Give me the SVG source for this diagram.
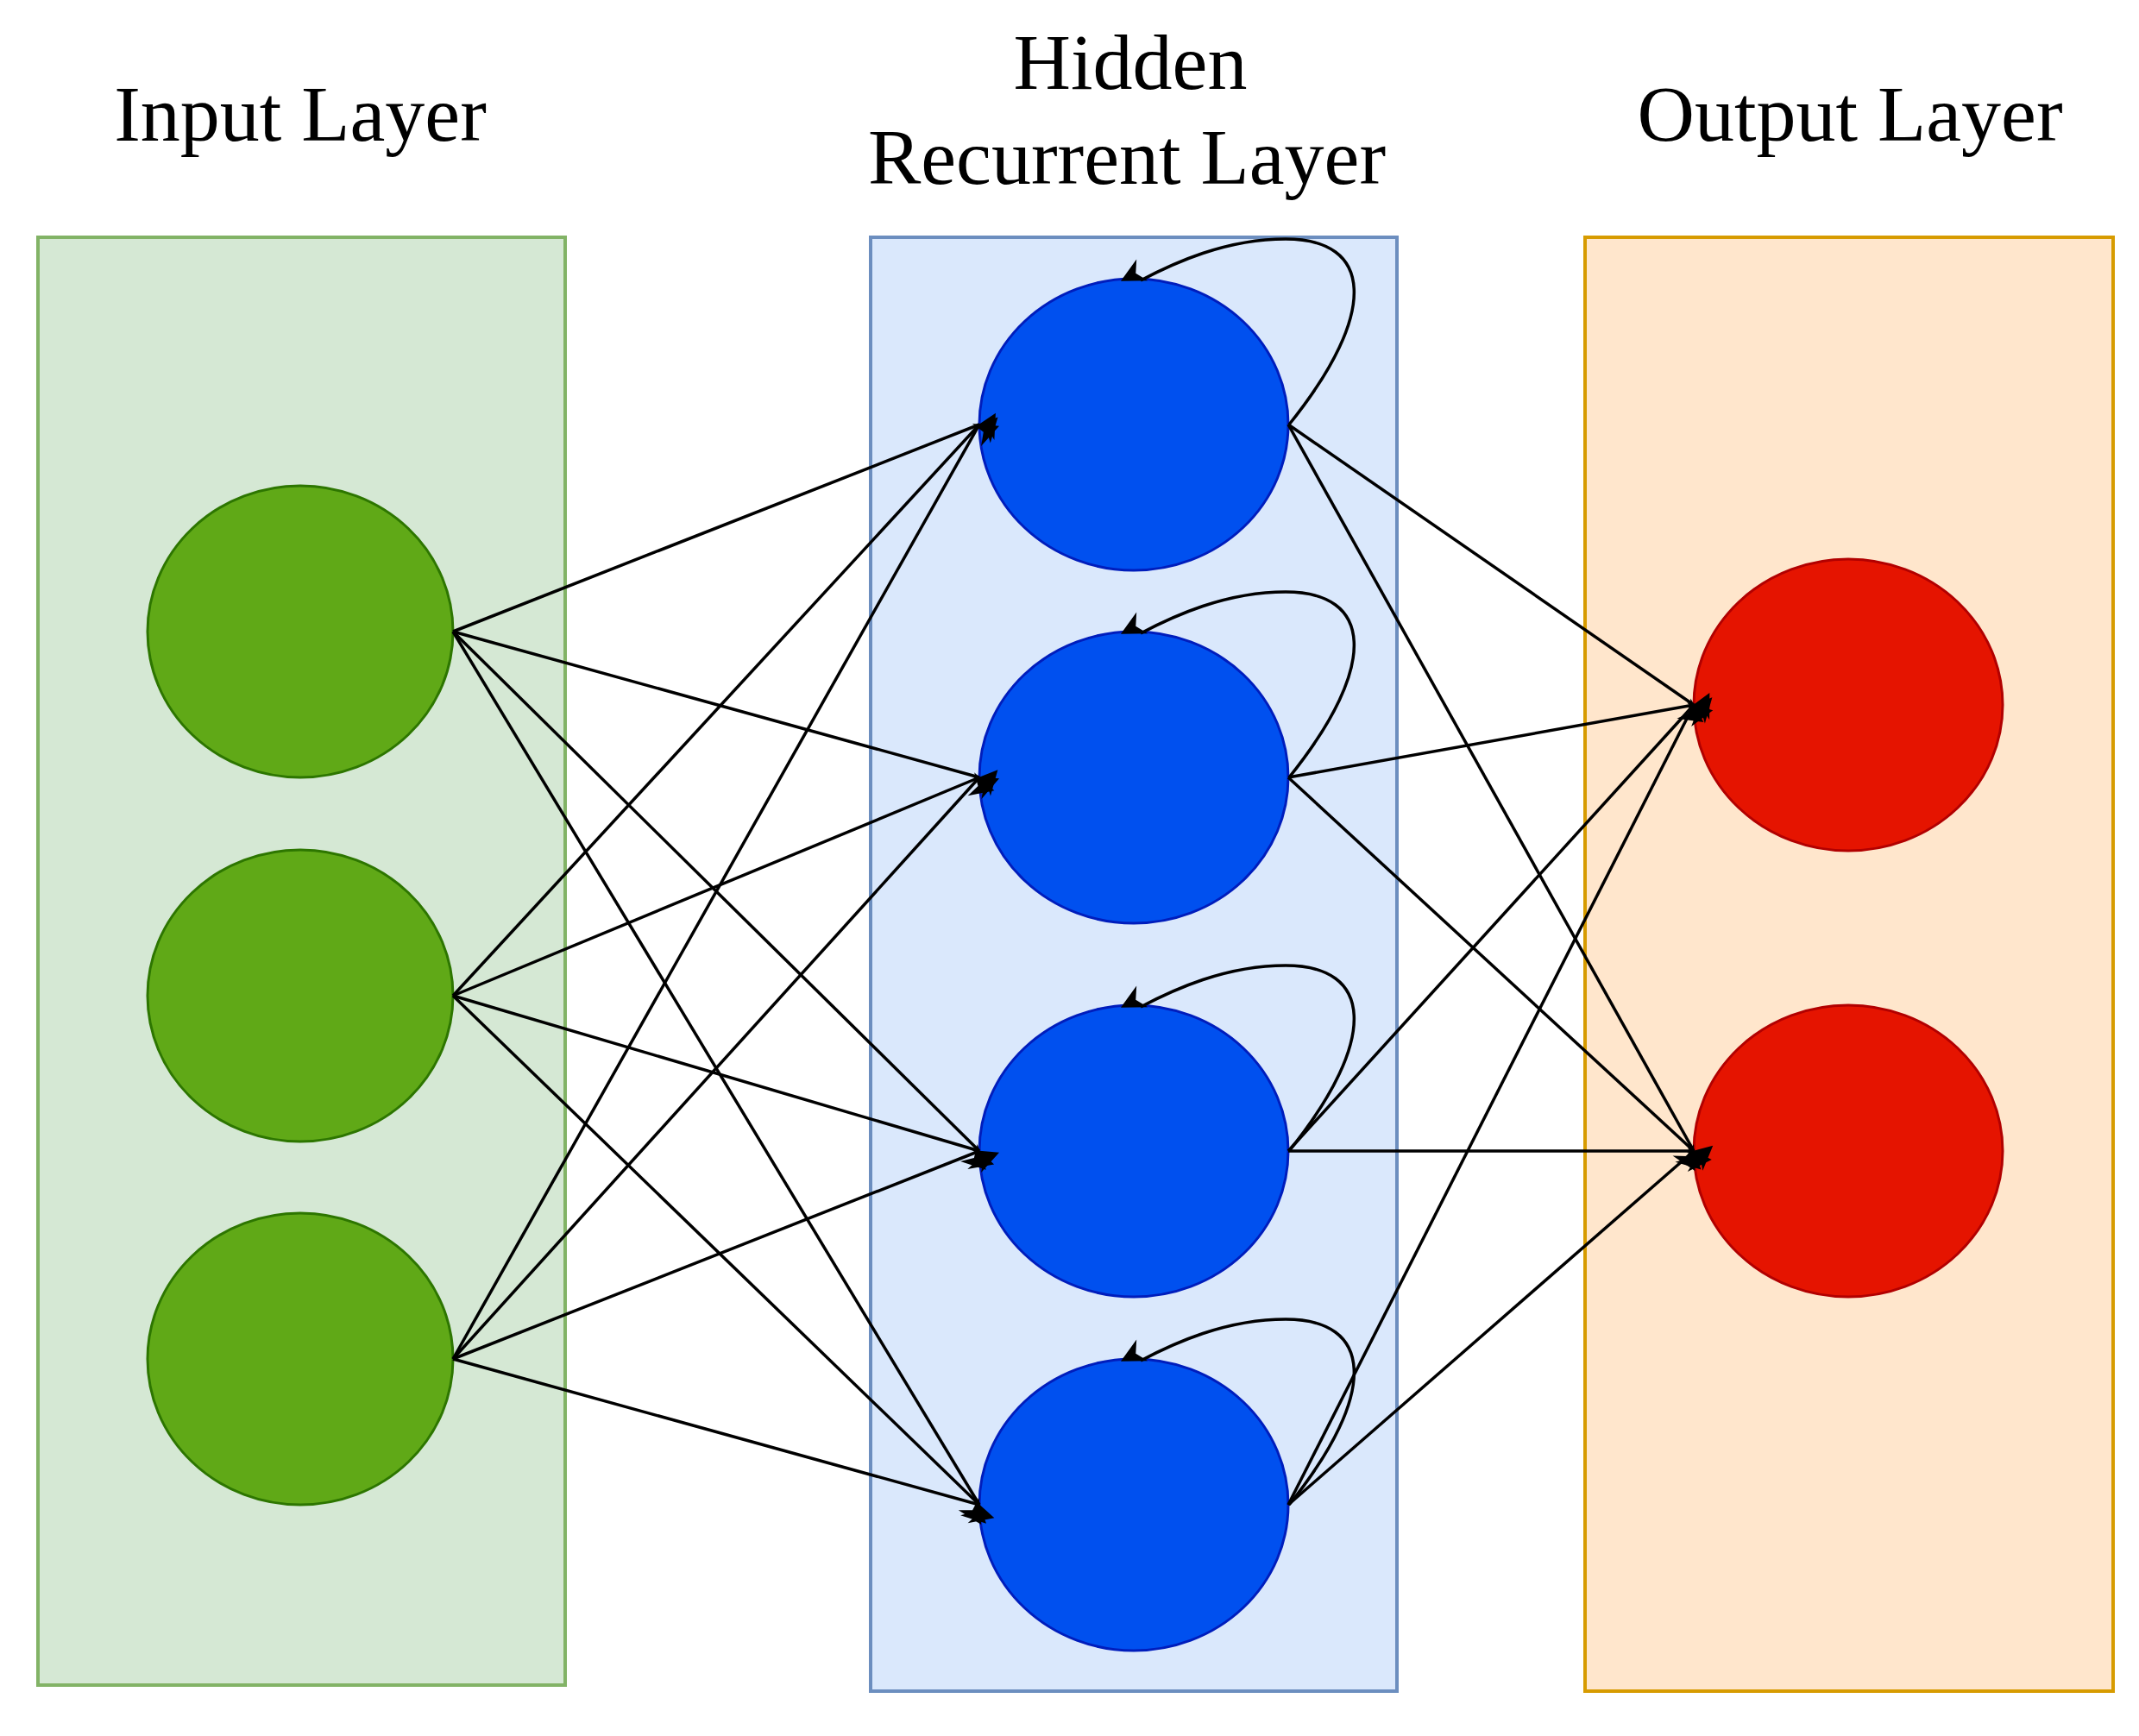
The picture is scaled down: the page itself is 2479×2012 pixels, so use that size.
<svg xmlns="http://www.w3.org/2000/svg" width="2479" height="2012" viewBox="0 0 2479 2012">
<style>
.t{font-family:"Liberation Serif",serif;font-size:92px;fill:#000;text-anchor:middle}
.e{stroke:#000;stroke-width:3.5;fill:none;marker-end:url(#a)}
.in{fill:#60a917;stroke:#2d7600;stroke-width:3}
.hd{fill:#0050ef;stroke:#001dbc;stroke-width:3}
.ou{fill:#e51400;stroke:#b20000;stroke-width:3}
</style>
<defs><marker id="a" viewBox="0 0 10 10" refX="9" refY="5" markerWidth="8" markerHeight="8" markerUnits="userSpaceOnUse" orient="auto" style="overflow:visible"><path d="M0,0 L10,5 L0,10 L3,5 Z" fill="#000" transform="scale(3.5)" /></marker></defs>
<rect width="2479" height="2012" fill="#fff"/>
<g id="input-layer"><rect x="44" y="275" width="611" height="1678" fill="#d5e8d4" stroke="#82b366" stroke-width="4"/><text class="t" x="348" y="163">Input Layer</text></g>
<g id="hidden-layer"><rect x="1009" y="275" width="610" height="1685" fill="#dae8fc" stroke="#6c8ebf" stroke-width="4"/><text class="t" x="1310" y="103">Hidden</text><text class="t" x="1306" y="213">Recurrent Layer</text></g>
<g id="output-layer"><rect x="1837" y="275" width="612" height="1685" fill="#ffe6cc" stroke="#d79b00" stroke-width="4"/><text class="t" x="2144" y="163">Output Layer</text></g>
<g id="i1"><ellipse class="in" cx="348" cy="732" rx="177" ry="169"/></g>
<g id="i2"><ellipse class="in" cx="348" cy="1154" rx="177" ry="169"/></g>
<g id="i3"><ellipse class="in" cx="348" cy="1575" rx="177" ry="169"/></g>
<g id="h1"><ellipse class="hd" cx="1314" cy="492" rx="179" ry="169"/></g>
<g id="h2"><ellipse class="hd" cx="1314" cy="901" rx="179" ry="169"/></g>
<g id="h3"><ellipse class="hd" cx="1314" cy="1334" rx="179" ry="169"/></g>
<g id="h4"><ellipse class="hd" cx="1314" cy="1744" rx="179" ry="169"/></g>
<g id="o1"><ellipse class="ou" cx="2142" cy="817" rx="179" ry="169"/></g>
<g id="o2"><ellipse class="ou" cx="2142" cy="1334" rx="179" ry="169"/></g>
<g id="connectors">
<line class="e" x1="525" y1="732" x2="1135" y2="492"/><line class="e" x1="525" y1="732" x2="1135" y2="901"/><line class="e" x1="525" y1="732" x2="1135" y2="1334"/><line class="e" x1="525" y1="732" x2="1135" y2="1744"/>
<line class="e" x1="525" y1="1154" x2="1135" y2="492"/><line class="e" x1="525" y1="1154" x2="1135" y2="901"/><line class="e" x1="525" y1="1154" x2="1135" y2="1334"/><line class="e" x1="525" y1="1154" x2="1135" y2="1744"/>
<line class="e" x1="525" y1="1575" x2="1135" y2="492"/><line class="e" x1="525" y1="1575" x2="1135" y2="901"/><line class="e" x1="525" y1="1575" x2="1135" y2="1334"/><line class="e" x1="525" y1="1575" x2="1135" y2="1744"/>
<line class="e" x1="1493" y1="492" x2="1963" y2="817"/><line class="e" x1="1493" y1="492" x2="1963" y2="1334"/>
<line class="e" x1="1493" y1="901" x2="1963" y2="817"/><line class="e" x1="1493" y1="901" x2="1963" y2="1334"/>
<line class="e" x1="1493" y1="1334" x2="1963" y2="817"/><line class="e" x1="1493" y1="1334" x2="1963" y2="1334"/>
<line class="e" x1="1493" y1="1744" x2="1963" y2="817"/><line class="e" x1="1493" y1="1744" x2="1963" y2="1334"/>
<path class="e" d="M1494,492 C1600,360 1590,277 1490,277 C1420,277 1360,305 1322,325"/>
<path class="e" d="M1494,901 C1600,769 1590,686 1490,686 C1420,686 1360,714 1322,734"/>
<path class="e" d="M1494,1334 C1600,1202 1590,1119 1490,1119 C1420,1119 1360,1147 1322,1167"/>
<path class="e" d="M1494,1744 C1600,1612 1590,1529 1490,1529 C1420,1529 1360,1557 1322,1577"/>
</g>
</svg>
